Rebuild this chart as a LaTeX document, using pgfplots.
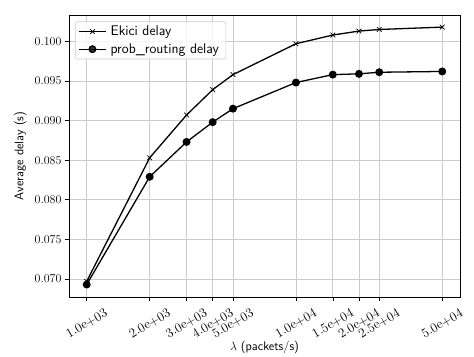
\documentclass[border=0pt]{standalone}
\usepackage{fontspec}
\usepackage{pgfplots}
\pgfplotsset{compat=1.18}
\newcommand{\lgf}{\fontsize{12.5}{15}\selectfont\sffamily}
\newcommand{\lgg}{\fontsize{14}{17}\selectfont\sffamily}
\begin{document}
\begin{tikzpicture}
\begin{axis}[
 scale only axis, width=391pt, height=282pt,
 xmode=log, xmin=823, xmax=60800, ymin=0.06772, ymax=0.10333,
 xtick={1000,2000,3000,4000,5000,10000,15000,20000,25000,50000},
 xticklabels={1.0e+03,2.0e+03,3.0e+03,4.0e+03,5.0e+03,1.0e+04,1.5e+04,2.0e+04,2.5e+04,5.0e+04},
 minor xtick={},
 ytick={0.070,0.075,0.080,0.085,0.090,0.095,0.100},
 yticklabel style={/pgf/number format/fixed,/pgf/number format/fixed zerofill,/pgf/number format/precision=3},
 scaled y ticks=false,
 tick label style={font=\fontsize{13.2}{15}\selectfont},
 xticklabel style={yshift=-22.5pt, rotate=30, anchor=center},
 tick align=outside, xtick pos=left, ytick pos=left,
 major tick length=4pt,
 tick style={black, line width=0.6pt},
 axis line style={black, line width=0.7pt},
 grid=major, major grid style={gray!40, line width=0.7pt},
 xlabel={\lgf $\lambda$ (packets/s)},
 ylabel={\lgf Average delay (s)},
 label style={font=\lgf},
 xlabel style={at={(axis description cs:0.5,-0.177)}, anchor=center},
 ylabel style={at={(axis description cs:-0.125,0.5)}, anchor=center},
 legend style={at={(0.0153,0.977)}, anchor=north west, draw=gray!40, line width=0.6pt, rounded corners=2pt, font=\lgg, fill=white, fill opacity=0.8, text opacity=1, row sep=4pt, inner xsep=3pt, inner ysep=3pt, nodes={inner xsep=4pt, inner ysep=1.2pt}},
 legend cell align=left,
 legend image code/.code={\draw[mark repeat=2,mark phase=2,#1] plot coordinates {(0pt,0pt)(13.5pt,0pt)(27pt,0pt)};},
]
\addplot[black, line width=1.3pt, mark=x, mark size=3.3pt, mark options={line width=0.7pt}] coordinates {
(1000,0.0697)(2000,0.0853)(3000,0.0907)(4000,0.0939)(5000,0.0958)(10000,0.0997)(15000,0.1008)(20000,0.1013)(25000,0.1015)(50000,0.1018)};
\addlegendentry{\lgg Ekici delay}
\addplot[black, line width=1.3pt, mark=*, mark size=3.3pt] coordinates {
(1000,0.0693)(2000,0.0829)(3000,0.0873)(4000,0.0898)(5000,0.0915)(10000,0.0948)(15000,0.0958)(20000,0.0959)(25000,0.0961)(50000,0.0962)};
\addlegendentry{\lgg prob\_routing delay}
\end{axis}
\path ([xshift=-69pt,yshift=-58pt]current axis.south west) rectangle ([xshift=14pt,yshift=15pt]current axis.north east);
\end{tikzpicture}
\end{document}
